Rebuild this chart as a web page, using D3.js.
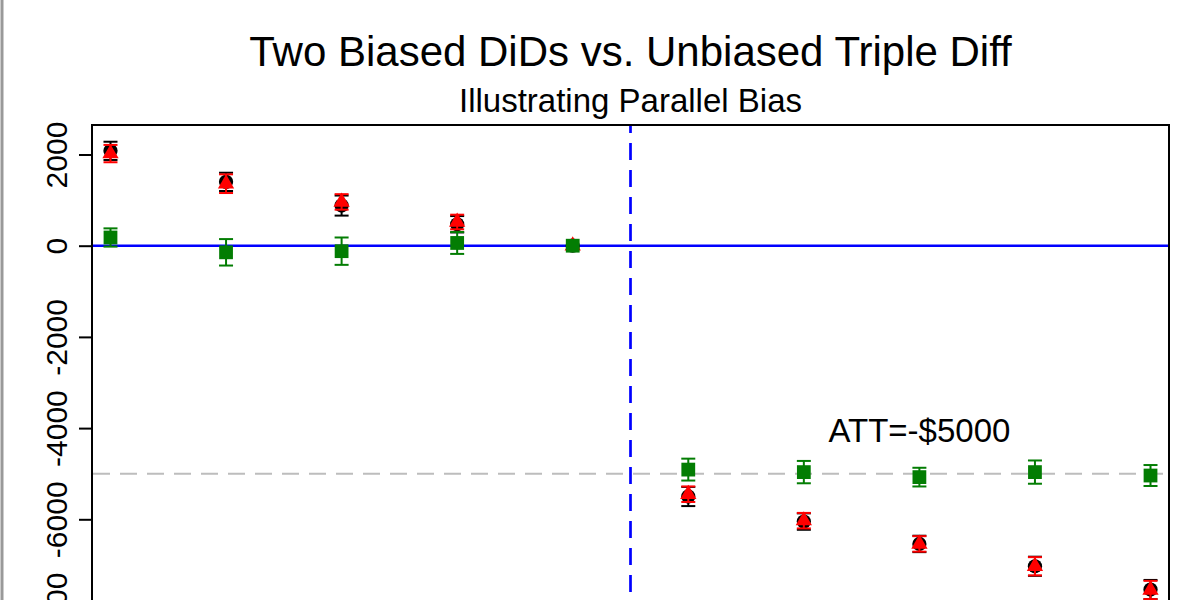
<!DOCTYPE html>
<html>
<head>
<meta charset="utf-8">
<script src="https://cdn.jsdelivr.net/npm/d3@7"></script>
<style>
  html, body { margin: 0; padding: 0; background: #fff; }
  svg { display: block; font-family: "Liberation Sans", Arial, Helvetica, sans-serif; }
</style>
</head>
<body>
<div class="chart"></div>
<script>
// event-time periods (treatment starts after period 5)
const periods = [1, 2, 3, 4, 5, 6, 7, 8, 9, 10];

// DiD #1 (black circles)
const blackEst = [2080, 1400, 880, 470, 0, -5500, -6050, -6540, -7030, -7540];
const blackSe = [200, 200, 220, 180, 0, 210, 180, 180, 210, 210];

// DiD #2 (red triangles)
const redEst = [2020, 1360, 960, 520, 0, -5450, -6030, -6540, -7030, -7550];
const redSe = [190, 205, 170, 160, 0, 170, 170, 170, 200, 200];

// triple diff (green squares)
const greenEst = [180, -145, -120, 60, 0, -4910, -4965, -5075, -4965, -5040];
const greenSe = [200, 290, 300, 240, 0, 240, 245, 205, 255, 230];

const yTicks = [2000, 0, -2000, -4000, -6000, -8000];
const treatLine = 5.5;
const att = -5000;

const width = 1200;
const height = 600;
const box = { left: 92, right: 1169, top: 125, bottom: 720 };

const svg = d3
  .select(".chart")
  .append("svg")
  .attr("width", width)
  .attr("height", height);

const x = d3.scaleLinear().domain([0.84, 10.16]).range([box.left, box.right]);
const y = d3.scaleLinear().domain([-8000, 2000]).range([610.5, 154.5]);

// page edge on the left
svg
  .append("line")
  .attr("x1", 2)
  .attr("x2", 2)
  .attr("y1", 0)
  .attr("y2", height)
  .attr("stroke", "#999")
  .attr("stroke-width", 3);

// titles
svg
  .append("text")
  .attr("x", (box.left + box.right) / 2)
  .attr("y", 66)
  .attr("text-anchor", "middle")
  .style("font-size", "42px")
  .text("Two Biased DiDs vs. Unbiased Triple Diff");

svg
  .append("text")
  .attr("x", (box.left + box.right) / 2)
  .attr("y", 112)
  .attr("text-anchor", "middle")
  .style("font-size", "33px")
  .text("Illustrating Parallel Bias");

// reference lines
svg
  .append("line")
  .attr("x1", box.left)
  .attr("x2", box.right)
  .attr("y1", y(0))
  .attr("y2", y(0))
  .attr("stroke", "#0000ff")
  .attr("stroke-width", 2.5);

svg
  .append("line")
  .attr("x1", box.left + 1)
  .attr("x2", box.right)
  .attr("y1", y(att))
  .attr("y2", y(att))
  .attr("stroke", "#bdbdbd")
  .attr("stroke-width", 2)
  .attr("stroke-dasharray", "17,10");

svg
  .append("line")
  .attr("x1", x(treatLine))
  .attr("x2", x(treatLine))
  .attr("y1", box.top)
  .attr("y2", box.bottom)
  .attr("stroke", "#0000ff")
  .attr("stroke-width", 2.7)
  .attr("stroke-dasharray", "17,10")
  .attr("stroke-dashoffset", 9);

svg
  .append("text")
  .attr("x", x(8))
  .attr("y", 442)
  .attr("text-anchor", "middle")
  .style("font-size", "33px")
  .text("ATT=-$5000");

// error bars + markers
const drawSeries = (est, se, color, symbol, size) => {
  const g = svg.append("g");
  const rows = periods.map((p, i) => ({ p, est: est[i], se: se[i] }));
  const bars = rows.filter(d => d.se > 0);
  g.selectAll(".stem")
    .data(bars)
    .enter()
    .append("line")
    .attr("x1", d => x(d.p))
    .attr("x2", d => x(d.p))
    .attr("y1", d => y(d.est + d.se))
    .attr("y2", d => y(d.est - d.se))
    .attr("stroke", color)
    .attr("stroke-width", 2);
  [1, -1].forEach(sign => {
    g.selectAll(".cap" + sign)
      .data(bars)
      .enter()
      .append("line")
      .attr("x1", d => x(d.p) - 7)
      .attr("x2", d => x(d.p) + 7)
      .attr("y1", d => y(d.est + sign * d.se))
      .attr("y2", d => y(d.est + sign * d.se))
      .attr("stroke", color)
      .attr("stroke-width", 2);
  });
  g.selectAll("path")
    .data(rows)
    .enter()
    .append("path")
    .attr("d", d3.symbol().type(symbol).size(size))
    .attr("transform", d => `translate(${x(d.p)},${y(d.est)})`)
    .attr("fill", color);
};

drawSeries(blackEst, blackSe, "#000", d3.symbolCircle, 160);
drawSeries(redEst, redSe, "#ff0000", d3.symbolTriangle, 115);
drawSeries(greenEst, greenSe, "#037d03", d3.symbolSquare, 190);

// y axis
const yAxis = d3.axisLeft(y).tickValues(yTicks).tickSize(13).tickFormat(d3.format("d"));
const axisG = svg
  .append("g")
  .attr("transform", `translate(${box.left},0)`)
  .call(yAxis);
axisG.select(".domain").remove();
axisG.selectAll(".tick line").attr("stroke", "#000").attr("stroke-width", 2);
axisG
  .selectAll(".tick text")
  .attr("transform", "rotate(-90)")
  .attr("x", 0)
  .attr("y", -25)
  .attr("dy", 0)
  .attr("text-anchor", "middle")
  .attr("fill", "#000")
  .style("font-family", "'Liberation Sans', Arial, Helvetica, sans-serif")
  .style("font-size", "30px")
  .text(d => String(d));

// plot box
svg
  .append("rect")
  .attr("x", box.left)
  .attr("y", box.top)
  .attr("width", box.right - box.left)
  .attr("height", box.bottom - box.top)
  .attr("fill", "none")
  .attr("stroke", "#000")
  .attr("stroke-width", 2);
</script>
</body>
</html>
